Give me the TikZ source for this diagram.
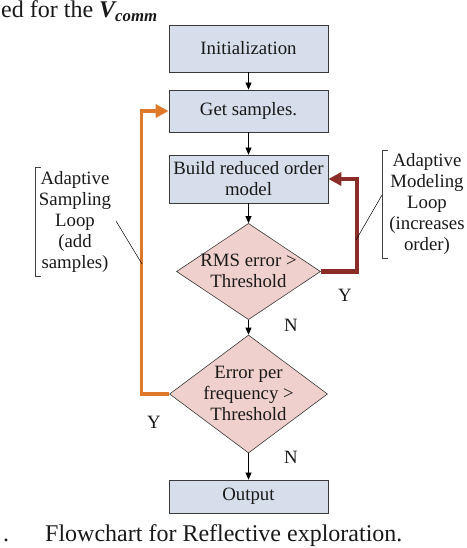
\documentclass[tikz,border=0pt]{standalone}
\usepackage{fontspec}
\setmainfont{Liberation Serif}
\usetikzlibrary{shapes.geometric,arrows.meta}
\definecolor{boxfill}{HTML}{D5DEEA}
\definecolor{diafill}{HTML}{F0D0CC}
\definecolor{loopor}{HTML}{E0782A}
\definecolor{loopred}{HTML}{8A2D28}
\definecolor{edgec}{HTML}{3A3A3A}
\newcommand\dtext[1]{\smash{\raisebox{-6pt}{\begin{tabular}{@{}c@{}}#1\end{tabular}}}}
\begin{document}
\begin{tikzpicture}[x=1pt,y=-1pt,
  every node/.style={font=\fontsize{18.8}{21}\selectfont, text=black!90},
  procbox/.style={draw=edgec, line width=0.8pt, fill=boxfill, minimum width=159pt, inner sep=0pt, align=center},
  decis/.style={diamond, draw=edgec, line width=0.6pt, fill=diafill, inner sep=0pt},
  flow/.style={draw=black, line width=0.7pt, -{Triangle[length=7pt,width=6pt]}},
  orloop/.style={draw=loopor, line width=3.8pt, -{Triangle[length=13pt,width=13pt]}},
  rdloop/.style={draw=loopred, line width=4.5pt, -{Triangle[length=13pt,width=13pt]}},
  brk/.style={draw=black!75, line width=0.6pt},
  pointer/.style={draw=black, line width=0.5pt},
  lbl/.style={inner sep=0pt},
  bigtxt/.style={anchor=base west, inner sep=0pt, font=\fontsize{24}{29}\selectfont}
]
\useasboundingbox (0,0) rectangle (466,548);

\node[procbox, minimum height=47pt] (init) at (248.5,48.5) {Initialization};
\node[procbox, minimum height=42pt] (samp) at (248.5,111) {Get samples.};
\node[procbox, minimum height=48pt] (build) at (248.5,179) {Build reduced order\\model};
\node[decis, minimum width=144pt, minimum height=87pt] (rms) at (248.5,271.5) {\dtext{RMS error >\\Threshold}};
\node[decis, minimum width=158pt, minimum height=118pt] (err) at (248.5,394) {\dtext{Error per\\frequency >\\Threshold}};
\node[procbox, minimum height=33pt] (out) at (248.5,496.5) {Output};

\draw[flow] (init) -- (samp);
\draw[flow] (samp) -- (build);
\draw[flow] (build) -- (rms);
\draw[flow] (rms) -- (err);
\draw[flow] (err) -- (out);

\coordinate (ol) at (141.5,0);
\coordinate (rl) at (357,0);
\draw[orloop] (err.west) -- (err.west -| ol) |- (samp.west);
\draw[rdloop] (rms.east) -- (rms.east -| rl) |- (build.east);

\node[lbl] (n1) at (291,325) {N};
\node[lbl] (n2) at (291,457) {N};
\node[lbl] (y1) at (345,295) {Y};
\node[lbl] (y2) at (154,422) {Y};

\node[align=center, inner sep=0pt] (asl) at (75,222) {Adaptive\\Sampling\\Loop\\(add\\samples)};
\node[align=center, inner sep=0pt] (aml) at (427,204) {Adaptive\\Modeling\\Loop\\(increases\\order)};

\draw[brk] (41,167) -- (35,167) -- (35,276) -- (41,276);
\draw[brk] (388,150) -- (382,150) -- (382,258) -- (388,258);

\coordinate (pa) at (116,221);
\coordinate (pb) at (142,264);
\draw[pointer] (pa) -- (pb);
\coordinate (pc) at (382,195);
\coordinate (pd) at (356,240);
\draw[pointer] (pc) -- (pd);

\node[bigtxt] (hdr) at (1,17.5) {ed for the {\bfseries\itshape V}\textsubscript{\bfseries\itshape comm}};
\node[bigtxt] (dot) at (3,541) {.};
\node[bigtxt] (cap) at (45,541) {Flowchart for Reflective exploration.};
\end{tikzpicture}
\end{document}
